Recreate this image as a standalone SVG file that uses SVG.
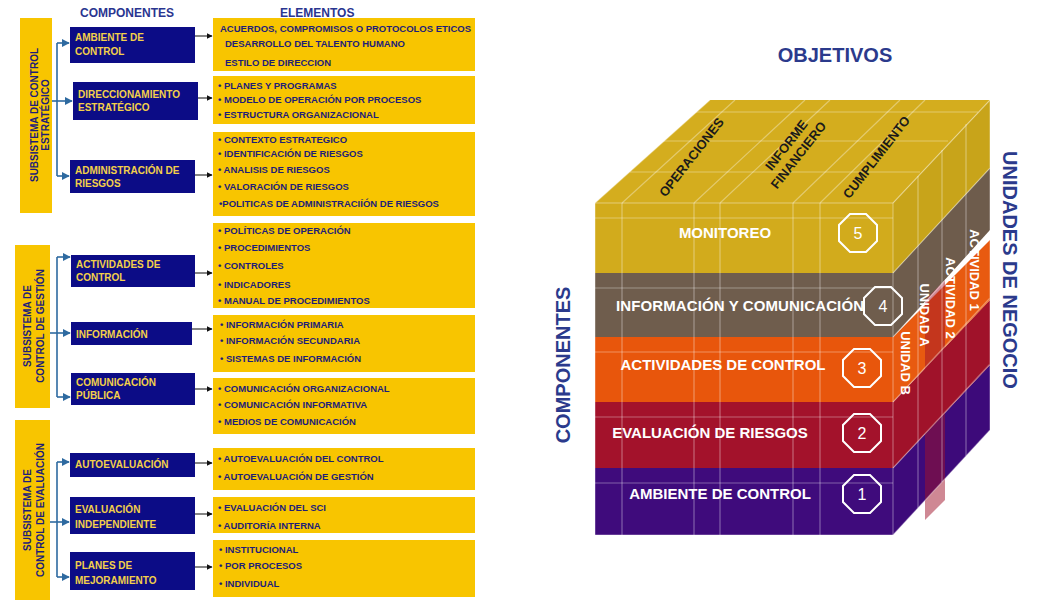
<svg xmlns="http://www.w3.org/2000/svg" width="1041" height="604" viewBox="0 0 1041 604">
<style>
.y{fill:#f8c500}
.nb{fill:#0c0c86}
.nt{font:bold 10px "Liberation Sans",Arial,sans-serif;fill:#f3d04a}
.et{font:bold 9.5px "Liberation Sans",Arial,sans-serif;fill:#1e1e78}
.hd{font:bold 12px "Liberation Sans",Arial,sans-serif;fill:#2a3590}
.st{font:bold 10px "Liberation Sans",Arial,sans-serif;fill:#1e1e78}
.ax{font:bold 20px "Liberation Sans",Arial,sans-serif;fill:#2b3a8c}
.lt{font:bold 15px "Liberation Sans",Arial,sans-serif;fill:#fff}
.sd{font:bold 13px "Liberation Sans",Arial,sans-serif;fill:#fff}
.tp{font:bold 13px "Liberation Sans",Arial,sans-serif;fill:#1a1a1a}
.oc{fill:none;stroke:#fff;stroke-width:2}
.on{font:16px "Liberation Sans",Arial,sans-serif;fill:#fff}
.gl{stroke:#fff;stroke-opacity:.35;stroke-width:1.2;fill:none}
.bl{stroke:#2e6aa0;stroke-width:1.6;fill:none}
.ka{stroke:#333;stroke-width:1.2;fill:none}
</style>
<defs>
<marker id="ab" viewBox="0 0 10 10" refX="9" refY="5" markerWidth="5" markerHeight="5" orient="auto"><path d="M0,0L10,5L0,10z" fill="#2e6aa0"/></marker>
<marker id="ak" viewBox="0 0 10 10" refX="9" refY="5" markerWidth="5" markerHeight="5" orient="auto"><path d="M0,0L10,5L0,10z" fill="#111"/></marker>
<polygon id="oct" points="-8,-19 8,-19 19,-8 19,8 8,19 -8,19 -19,8 -19,-8"/>
</defs>
<rect width="1041" height="604" fill="#fff"/>
<text class="hd" x="80" y="17">COMPONENTES</text>
<text class="hd" x="280" y="17">ELEMENTOS</text>

<g id="sub1"><rect class="y" x="20" y="18" width="32" height="195"/>
<text class="st" transform="translate(38,115) rotate(-90)" text-anchor="middle">SUBSISTEMA    DE CONTROL</text>
<text class="st" transform="translate(49,115) rotate(-90)" text-anchor="middle">ESTRATÉGICO</text></g>
<g id="sub2"><rect class="y" x="15" y="245" width="35" height="163"/>
<text class="st" transform="translate(31,326) rotate(-90)" text-anchor="middle">SUBSISTEMA    DE</text>
<text class="st" transform="translate(44,326) rotate(-90)" text-anchor="middle">CONTROL DE GESTIÓN</text></g>
<g id="sub3"><rect class="y" x="15" y="420" width="35" height="180"/>
<text class="st" transform="translate(31,510) rotate(-90)" text-anchor="middle">SUBSISTEMA  DE</text>
<text class="st" transform="translate(44,510) rotate(-90)" text-anchor="middle">CONTROL DE EVALUACIÓN</text></g>

<g id="connectors">
<path class="bl" d="M57,43V176"/><path class="bl" d="M57,43H69" marker-end="url(#ab)"/><path class="bl" d="M52,101H72" marker-end="url(#ab)"/><path class="bl" d="M57,176H69" marker-end="url(#ab)"/>
<path class="bl" d="M57,257V397"/><path class="bl" d="M57,257H70" marker-end="url(#ab)"/><path class="bl" d="M50,333H70" marker-end="url(#ab)"/><path class="bl" d="M57,397H70" marker-end="url(#ab)"/>
<path class="bl" d="M57,462V577"/><path class="bl" d="M57,462H69" marker-end="url(#ab)"/><path class="bl" d="M50,522H69" marker-end="url(#ab)"/><path class="bl" d="M57,577H69" marker-end="url(#ab)"/>
<path class="ka" d="M195,36H212" marker-end="url(#ak)"/><path class="ka" d="M198,98H212" marker-end="url(#ak)"/><path class="ka" d="M195,175H212" marker-end="url(#ak)"/>
<path class="ka" d="M195,273H212" marker-end="url(#ak)"/><path class="ka" d="M192,329H212" marker-end="url(#ak)"/><path class="ka" d="M195,389H212" marker-end="url(#ak)"/>
<path class="ka" d="M195,463H212" marker-end="url(#ak)"/><path class="ka" d="M195,514H212" marker-end="url(#ak)"/><path class="ka" d="M195,567H212" marker-end="url(#ak)"/>
</g>

<g id="c1"><rect class="nb" x="70" y="27" width="125" height="36"/><text class="nt" x="75" y="41">AMBIENTE DE</text><text class="nt" x="75" y="55">CONTROL</text></g>
<g id="c2"><rect class="nb" x="73" y="82" width="125" height="38"/><text class="nt" x="78" y="98">DIRECCIONAMIENTO</text><text class="nt" x="78" y="111">ESTRATÉGICO</text></g>
<g id="c3"><rect class="nb" x="70" y="160" width="125" height="33"/><text class="nt" x="75" y="174">ADMINISTRACIÓN DE</text><text class="nt" x="75" y="187">RIESGOS</text></g>
<g id="c4"><rect class="nb" x="71" y="255" width="124" height="32"/><text class="nt" x="76" y="268">ACTIVIDADES DE</text><text class="nt" x="76" y="281">CONTROL</text></g>
<g id="c5"><rect class="nb" x="71" y="322" width="121" height="23"/><text class="nt" x="76" y="338">INFORMACIÓN</text></g>
<g id="c6"><rect class="nb" x="71" y="373" width="124" height="32"/><text class="nt" x="76" y="386">COMUNICACIÓN</text><text class="nt" x="76" y="399">PÚBLICA</text></g>
<g id="c7"><rect class="nb" x="70" y="453" width="125" height="24"/><text class="nt" x="75" y="468">AUTOEVALUACIÓN</text></g>
<g id="c8"><rect class="nb" x="70" y="497" width="125" height="37"/><text class="nt" x="75" y="513">EVALUACIÓN</text><text class="nt" x="75" y="528">INDEPENDIENTE</text></g>
<g id="c9"><rect class="nb" x="70" y="552" width="125" height="38"/><text class="nt" x="75" y="569">PLANES DE</text><text class="nt" x="75" y="584">MEJORAMIENTO</text></g>

<g id="e1"><rect class="y" x="213" y="18" width="262" height="53"/><text class="et" x="220" y="32">ACUERDOS, COMPROMISOS O PROTOCOLOS  ETICOS</text><text class="et" x="225" y="47">DESARROLLO DEL TALENTO HUMANO</text><text class="et" x="225" y="66">ESTILO DE DIRECCION</text></g>
<g id="e2"><rect class="y" x="213" y="76" width="262" height="48"/><text class="et" x="218" y="89">• PLANES Y PROGRAMAS</text><text class="et" x="218" y="103">• MODELO DE OPERACIÓN POR PROCESOS</text><text class="et" x="218" y="118">•  ESTRUCTURA ORGANIZACIONAL</text></g>
<g id="e3"><rect class="y" x="213" y="132" width="262" height="84"/><text class="et" x="218" y="143">• CONTEXTO ESTRATEGICO</text><text class="et" x="218" y="157">• IDENTIFICACIÓN   DE RIESGOS</text><text class="et" x="218" y="173">• ANALISIS DE RIESGOS</text><text class="et" x="218" y="190">• VALORACIÓN DE RIESGOS</text><text class="et" x="219" y="207">•POLITICAS DE ADMINISTRACIÍÓN DE RIESGOS</text></g>
<g id="e4"><rect class="y" x="213" y="223" width="262" height="85"/><text class="et" x="218" y="234">•  POLÍTICAS DE OPERACIÓN</text><text class="et" x="218" y="251">•  PROCEDIMIENTOS</text><text class="et" x="218" y="269">•  CONTROLES</text><text class="et" x="218" y="288">•  INDICADORES</text><text class="et" x="218" y="304">•  MANUAL DE PROCEDIMIENTOS</text></g>
<g id="e5"><rect class="y" x="213" y="315" width="262" height="57"/><text class="et" x="220" y="328">• INFORMACIÓN PRIMARIA</text><text class="et" x="220" y="344">• INFORMACIÓN SECUNDARIA</text><text class="et" x="220" y="362">• SISTEMAS DE INFORMACIÓN</text></g>
<g id="e6"><rect class="y" x="213" y="378" width="262" height="56"/><text class="et" x="218" y="392">• COMUNICACIÓN ORGANIZACIONAL</text><text class="et" x="218" y="408">• COMUNICACIÓN INFORMATIVA</text><text class="et" x="218" y="425">• MEDIOS DE COMUNICACIÓN</text></g>
<g id="e7"><rect class="y" x="213" y="448" width="262" height="42"/><text class="et" x="218" y="462">•  AUTOEVALUACIÓN DEL CONTROL</text><text class="et" x="218" y="480">•  AUTOEVALUACIÓN DE GESTIÓN</text></g>
<g id="e8"><rect class="y" x="213" y="497" width="262" height="36"/><text class="et" x="218" y="511">•  EVALUACIÓN DEL SCI</text><text class="et" x="218" y="529">• AUDITORÍA INTERNA</text></g>
<g id="e9"><rect class="y" x="213" y="540" width="262" height="57"/><text class="et" x="219" y="553">• INSTITUCIONAL</text><text class="et" x="219" y="569">• POR PROCESOS</text><text class="et" x="219" y="587">• INDIVIDUAL</text></g>

<g id="cube">
<!-- side bands -->
<polygon points="893,468 893,535 990,430 990,365" fill="#3d0a7a"/>
<polygon points="893,402 893,468 990,365 990,300" fill="#a0122a"/>
<polygon points="893,337 893,402 990,300 990,240" fill="#e85a10"/>
<polygon points="893,273 893,337 990,240 990,180" fill="#a0122a" opacity="0"/>
<polygon points="893,273 893,337 990,230 990,168" fill="#6e5c4c"/>
<polygon points="893,203 893,273 990,168 990,100" fill="#c8a41a"/>
<polygon points="925,300 945,280 945,500 925,520" fill="#a0122a" opacity=".5"/>
<!-- top -->
<polygon points="595,203 893,203 990,100 710,100" fill="#d4ad1e"/>
<!-- front layers -->
<rect x="595" y="203" width="298" height="70" fill="#d2ab1c"/>
<rect x="595" y="273" width="298" height="64" fill="#6f5d4d"/>
<rect x="595" y="337" width="298" height="65" fill="#e8560c"/>
<rect x="595" y="402" width="298" height="66" fill="#a3122b"/>
<rect x="595" y="468" width="298" height="67" fill="#3f0b7c"/>
<!-- grid -->
<g class="gl">
<path d="M694,203V535M793,203V535M622,203V535M720,203V535M820,203V535"/>
<path d="M595,218H893M595,288H893M595,352H893M595,417H893M595,483H893"/>
<path d="M595,203L710,100M694,203L805,100M793,203L900,100M893,203L990,100"/>
<path d="M630,172H920M660,141H948M690,112H978"/>
<path d="M622,203L735,100M720,203L830,100M820,203L925,100"/>
<path d="M918,176V508M942,150V482M966,124V456"/>
<path d="M893,273L990,168M893,337L990,232M893,402L990,298M893,468L990,364M893,535L990,430M990,100V430"/>
</g>
<path d="M595,203H893V535H595Z" fill="none" stroke="#fff" stroke-opacity=".4"/>
<!-- labels -->
<text class="lt" x="725" y="238" text-anchor="middle">MONITOREO</text>
<text class="lt" x="740" y="311" text-anchor="middle" textLength="248">INFORMACIÓN Y COMUNICACIÓN</text>
<text class="lt" x="723" y="370" text-anchor="middle">ACTIVIDADES DE CONTROL</text>
<text class="lt" x="710" y="438" text-anchor="middle">EVALUACIÓN DE RIESGOS</text>
<text class="lt" x="720" y="499" text-anchor="middle">AMBIENTE DE CONTROL</text>
<g><use href="#oct" class="oc" x="858" y="233"/><text class="on" x="858" y="239" text-anchor="middle">5</text></g>
<g><use href="#oct" class="oc" x="883" y="306"/><text class="on" x="883" y="312" text-anchor="middle">4</text></g>
<g><use href="#oct" class="oc" x="862" y="368"/><text class="on" x="862" y="374" text-anchor="middle">3</text></g>
<g><use href="#oct" class="oc" x="862" y="433"/><text class="on" x="862" y="439" text-anchor="middle">2</text></g>
<g><use href="#oct" class="oc" x="862" y="494"/><text class="on" x="862" y="500" text-anchor="middle">1</text></g>
<text class="tp" transform="translate(695,160) rotate(-52)" text-anchor="middle">OPERACIONES</text>
<text class="tp" transform="translate(790,148) rotate(-52)" text-anchor="middle">INFORME</text>
<text class="tp" transform="translate(802,158) rotate(-52)" text-anchor="middle">FINANCIERO</text>
<text class="tp" transform="translate(880,160) rotate(-52)" text-anchor="middle">CUMPLIMIENTO</text>
<text class="sd" transform="translate(901,363) rotate(90)" text-anchor="middle">UNIDAD B</text>
<text class="sd" transform="translate(920,315) rotate(90)" text-anchor="middle">UNIDAD A</text>
<text class="sd" transform="translate(946,298) rotate(90)" text-anchor="middle">ACTIVIDAD 2</text>
<text class="sd" transform="translate(970,270) rotate(90)" text-anchor="middle">ACTIVIDAD 1</text>
</g>
<text class="ax" x="835" y="62" text-anchor="middle">OBJETIVOS</text>
<text class="ax" transform="translate(570,365) rotate(-90)" text-anchor="middle">COMPONENTES</text>
<text class="ax" transform="translate(1003,270) rotate(90)" text-anchor="middle">UNIDADES DE NEGOCIO</text>
</svg>
